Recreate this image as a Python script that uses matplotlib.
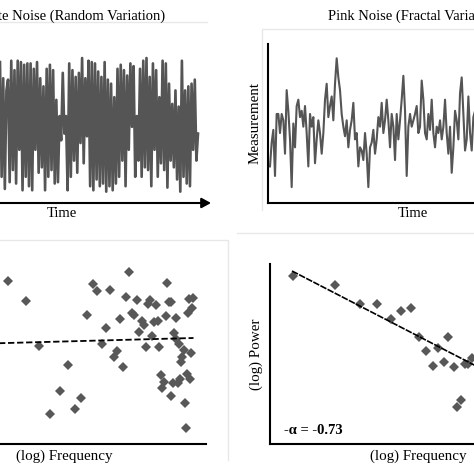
import numpy as np
import matplotlib
matplotlib.use('Agg')
import matplotlib.pyplot as plt
from matplotlib.lines import Line2D

#### data ####

# white noise trace (0 = bottom of band, 100 = top)
white_noise = [97, 12, 85, 3, 76, 84, 8, 98, 17, 91, 7, 98, 32, 97, 2, 95, 12, 96, 5, 96,
               2, 92, 32, 97, 15, 85, 19, 79, 2, 92, 12, 95, 17, 91, 7, 69, 8, 57, 39,
               89, 44, 57, 2, 96, 12, 91, 24, 86, 15, 89, 37, 100, 22, 85, 42, 98, 5, 97, 2,
               96, 10, 90, 5, 86, 7, 97, 1, 84, 5, 81, 2, 71, 7, 92, 12, 95, 24, 91, 5, 87,
               32, 96, 49,
               94, 12, 57, 24, 92, 12, 98, 19, 100, 17, 86, 5, 96, 32, 91, 12, 71, 22, 98, 17,
               96, 4, 81, 24, 66, 19, 76, 10, 64, 1, 98, 12, 76, 7, 79, 5, 81, 32, 84, 24, 44]

# pink noise trace (0-100 measurement units)
pink_noise = [23, 38, 46, 17, 56, 56, 44, 56, 52, 31, 71, 58, 40, 10, 50, 35, 61, 65, 54, 58,
              48, 61, 44, 23, 56, 48, 54, 25, 40, 52, 44, 31, 44, 65, 75, 54, 61, 67, 52, 75,
              91, 79, 71, 56, 48, 42, 52, 35, 46, 52, 63, 40, 44, 23, 35, 33, 27, 44, 31, 10,
              35, 38, 46, 31, 40, 54, 48, 63, 44, 52, 65, 52, 35, 56, 48, 27, 56, 40, 52, 65,
              80, 58, 17, 48, 56, 48, 52, 56, 61, 44, 48, 77, 65, 44, 40, 56, 46, 65, 44, 35,
              48, 44, 52, 40, 48, 65, 44, 31, 48, 19, 35, 58, 52, 40, 69, 79, 56, 33, 40, 67,
              44, 33, 54, 58, 40]

# white-noise spectrum: (log) frequency vs (log) power
wn_freq = [0.8, 2.6, 3.9, 5.0, 6.0, 6.8, 7.5, 8.1, 8.7, 9.3, 9.7, 10.2, 10.6, 11.0, 11.4,
           11.7, 12.0, 12.3, 12.6, 12.9, 13.2, 13.4, 13.7, 13.9, 14.2, 14.4, 14.6, 14.8,
           15.0, 15.2, 15.4, 15.6, 15.8, 15.9, 16.1, 16.2, 16.4, 16.6, 16.7, 16.9, 17.1,
           17.1, 17.3, 17.4, 17.6, 17.6, 17.8, 17.9, 18.0, 18.1, 18.2, 18.4, 18.5, 18.6,
           18.7, 18.8, 18.9, 19.0, 19.1, 19.2, 19.3]
wn_power = [16.3, 14.3, 9.8, 3.0, 5.3, 7.9, 3.5, 4.6, 12.9, 16.0, 15.3, 10.0, 11.6, 15.4, 8.7,
            9.3, 12.5, 7.7, 14.7, 17.2, 13.1, 12.9, 14.4, 11.2, 12.3, 11.9, 9.7, 14.0,
            14.4, 10.8, 12.2, 13.9, 12.3, 9.7, 6.9, 5.6, 6.2, 12.8, 16.1, 14.2, 14.2,
            4.8, 6.1, 11.1, 12.6, 10.5, 6.1, 10.0, 6.5, 8.2, 8.7, 9.4, 4.1, 1.6,
            7.0, 13.1, 14.5, 6.5, 9.1, 13.6, 14.6]
wn_trend_x = [-6.0, 19.35]
wn_trend_y = [9.92, 10.6]

# pink-noise spectrum
pn_freq = [2.3, 6.5, 9.0, 10.7, 12.1, 13.1, 14.1, 14.9, 15.6, 16.8, 17.8, 16.3, 17.4,
           18.4, 19.5, 19.8, 20.2, 18.7, 19.1]
pn_power = [16.8, 15.9, 14.0, 14.0, 12.5, 13.3, 13.6, 10.7, 9.3, 9.6, 10.7, 7.8, 8.2,
            7.7, 8.0, 8.0, 8.6, 3.7, 4.4]
pn_trend_x = [2.2, 27.0]
pn_trend_y = [17.3, 4.5]
slope_text = '-\u03b1 = -0.73'

#### style ####

W = H = 474
plt.rcParams['font.family'] = ['Liberation Serif', 'DejaVu Serif']
line_col = '#555555'
mark_col = '#585858'


def px_box(left, top, right, bottom):
    # pixel box (from top-left corner) -> figure fraction rect
    return [left / W, 1 - bottom / H, (right - left) / W, (bottom - top) / H]


def px_line(fig, xs, ys):
    fig.add_artist(Line2D([x / W for x in xs], [1 - y / H for y in ys],
                          color='#e8e8e8', lw=1, transform=fig.transFigure))


def clean(ax, left=False, bottom=False):
    ax.set_xticks([])
    ax.set_yticks([])
    for s in ['top', 'right', 'left', 'bottom']:
        ax.spines[s].set_visible(False)
    if left:
        ax.spines['left'].set_visible(True)
        ax.spines['left'].set_linewidth(1.5)
    if bottom:
        ax.spines['bottom'].set_visible(True)
        ax.spines['bottom'].set_linewidth(1.5)
    ax.patch.set_alpha(0)


fig = plt.figure(figsize=(4.74, 4.74), dpi=100)

# faint panel borders of the original figure
px_line(fig, [0, 207], [22, 22])
px_line(fig, [262, 262, 474], [210, 29, 29])
px_line(fig, [237, 474], [233, 233])
px_line(fig, [0, 228, 228], [240, 240, 460])

# top-left: white noise
ax1 = fig.add_axes(px_box(-88, 48, 211, 203))
clean(ax1)
x_wn = np.arange(len(white_noise))
step = 198 / (len(white_noise) - 1)
ax1.plot(x_wn, white_noise, color=line_col, lw=1.9)
ax1.set_xlim(-88 / step, -88 / step + 299 / step)
ax1.set_ylim(-10 / 1.35, -10 / 1.35 + 155 / 1.35)
ax1.annotate('', xy=(1, 0), xytext=(0, 0), xycoords='axes fraction',
             arrowprops=dict(arrowstyle='-|>,head_length=0.55,head_width=0.3',
                             lw=1.5, color='black', shrinkA=0, shrinkB=0))
ax1.set_xlabel('Time', fontsize=10.5, labelpad=3)
fig.text(165 / W, 1 - 20 / H, 'White Noise (Random Variation)', ha='right',
         va='baseline', fontsize=10.5)

# top-right: pink noise
ax2 = fig.add_axes(px_box(268, 44, 558, 203))
clean(ax2, left=True, bottom=True)
x_pn = np.arange(len(pink_noise))
ax2.plot(x_pn, pink_noise, color=line_col, lw=1.5)
ax2.set_xlim(-2 / 1.667, -2 / 1.667 + 290 / 1.667)
ax2.set_ylim(0, 100)
ax2.set_xlabel('Time', fontsize=10.5, labelpad=3)
ax2.set_ylabel('Measurement', fontsize=10.8, labelpad=5)
fig.text(328 / W, 1 - 20 / H, 'Pink Noise (Fractal Variation)', ha='left',
         va='baseline', fontsize=10.5)

# bottom-left: white noise spectrum
ax3 = fig.add_axes(px_box(-77, 264, 206, 444))
clean(ax3, bottom=True)
ax3.plot(wn_freq, wn_power, 'D', color=mark_col, ms=5, mew=0)
ax3.plot(wn_trend_x, wn_trend_y, color='black', lw=1.3, dashes=(3.5, 1.5))
ax3.set_xlim(-7.7, 20.6)
ax3.set_ylim(0, 18)
ax3.set_xlabel('(log) Frequency', fontsize=10.8, labelpad=4)

# bottom-right: pink noise spectrum
ax4 = fig.add_axes(px_box(270, 264, 566, 444))
clean(ax4, left=True, bottom=True)
ax4.plot(pn_freq, pn_power, 'D', color=mark_col, ms=5, mew=0)
ax4.plot(pn_trend_x, pn_trend_y, color='black', lw=1.2, dashes=(4, 0.8))
ax4.set_xlim(0, 29.6)
ax4.set_ylim(0, 18)
ax4.set_xlabel('(log) Frequency', fontsize=10.8, labelpad=4)
ax4.set_ylabel('(log) Power', fontsize=10.8, labelpad=5)
ax4.text(0.047, 0.056, slope_text, transform=ax4.transAxes, fontsize=10.5,
         fontweight='bold', ha='left', va='baseline')

fig.savefig('out.png', dpi=100)
